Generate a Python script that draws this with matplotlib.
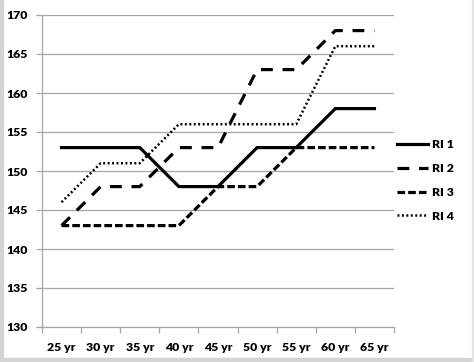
import numpy as np
import matplotlib
matplotlib.use("Agg")
import matplotlib.pyplot as plt
from matplotlib.patches import Rectangle

ages = ["25 yr", "30 yr", "35 yr", "40 yr", "45 yr", "50 yr", "55 yr", "60 yr", "65 yr"]
ri1 = [153, 153, 153, 148, 148, 153, 153, 158, 158]
ri2 = [143, 148, 148, 153, 153, 163, 163, 168, 168]
ri3 = [143, 143, 143, 143, 148, 148, 153, 153, 153]
ri4 = [146, 151, 151, 156, 156, 156, 156, 166, 166]
yticks = [130, 135, 140, 145, 150, 155, 160, 165, 170]

plt.rcParams['font.family'] = ['Lato', 'DejaVu Sans']
plt.rcParams['font.weight'] = 'heavy'
plt.rcParams['lines.scale_dashes'] = False

fig = plt.figure(figsize=(4.74, 3.62), dpi=100)
ax = fig.add_axes([42/474, 1-327/362, (394-42)/474, (327-15)/362])

x = np.arange(len(ages))
grey = '#a6a6a6'
ax.plot(x, ri1, color='black', lw=2.3, solid_joinstyle='miter', label='RI 1')
ax.plot(x, ri2, color='black', lw=2.3, dashes=(8.5, 7), label='RI 2')
ax.plot(x, ri3, color='black', lw=2.3, dashes=(5.5, 2.2), label='RI 3')
ax.plot(x, ri4, color='black', lw=1.8, dashes=(1.4, 1.8), label='RI 4')

ax.set_xlim(-0.5, len(ages) - 0.5)
ax.set_ylim(130, 170)
ax.set_yticks(yticks)
ax.yaxis.grid(True, color=grey, lw=0.9)
ax.set_axisbelow(True)

ax.set_xticks(np.arange(len(ages) + 1) - 0.5)
ax.set_xticklabels([])
ax.set_xticks(x, minor=True)
ax.set_xticklabels(ages, minor=True, fontsize=8.8, fontweight='heavy')
ax.tick_params(axis='x', which='major', length=4, color=grey, width=0.9, direction='out')
ax.tick_params(axis='x', which='minor', length=0, pad=11)
ax.tick_params(axis='y', length=4, color=grey, width=0.9, labelsize=8.8, pad=6)
for lab in ax.get_yticklabels():
    lab.set_fontweight('heavy')

for s in ['top', 'right']:
    ax.spines[s].set_visible(False)
for s in ['left', 'bottom']:
    ax.spines[s].set_color(grey)
    ax.spines[s].set_linewidth(0.9)

leg = fig.legend(loc='center left', bbox_to_anchor=(397/474, 1-180.5/362), frameon=False,
                 borderpad=0, borderaxespad=0, handlelength=2.5, handletextpad=0.35,
                 labelspacing=1.05, prop={'size': 8.8, 'weight': 'heavy'})

# light grey frame around the picture
fig.patches.append(Rectangle((0, 0), 3/474, 1, transform=fig.transFigure, color='#d4d4d4', zorder=0))
fig.patches.append(Rectangle((0, 0), 1, 4/362, transform=fig.transFigure, color='#d4d4d4', zorder=0))
fig.patches.append(Rectangle((1-2/474, 0), 2/474, 1, transform=fig.transFigure, color='#e4e4e4', zorder=0))

fig.savefig('out.png', dpi=100)
